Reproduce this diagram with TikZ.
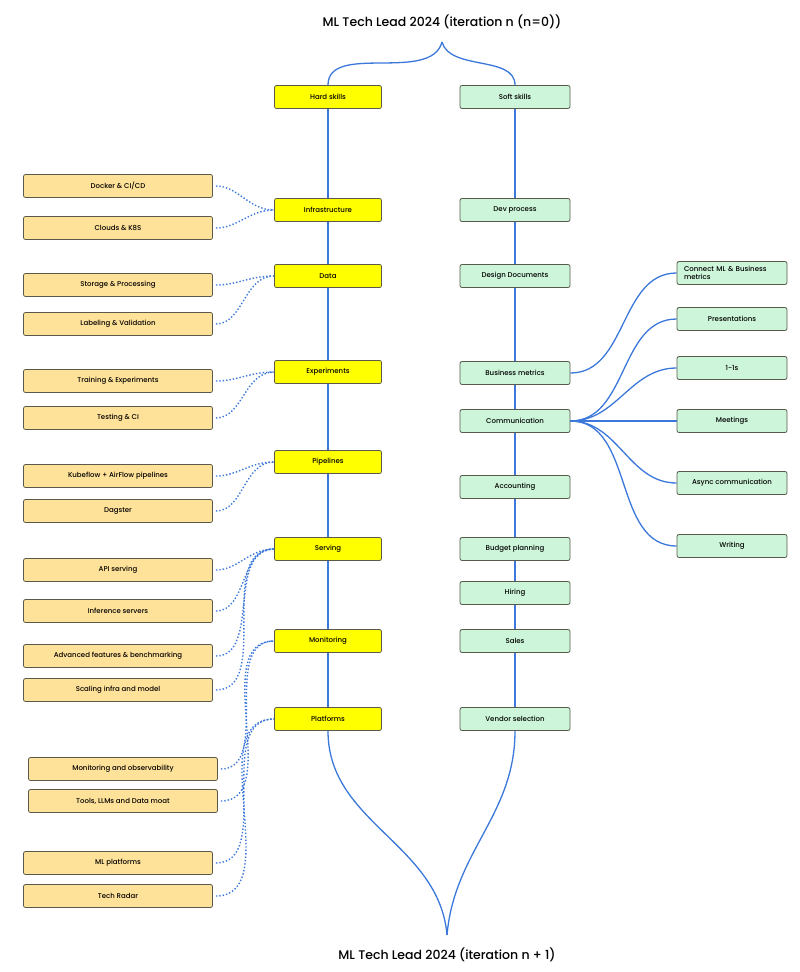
\documentclass[tikz,border=0pt]{standalone}
\usepackage{fontspec}
\setmainfont{Poppins}[UprightFont={* Medium}]
\definecolor{linie}{HTML}{3B78DA}
\definecolor{gelb}{HTML}{FFFF00}
\definecolor{minze}{HTML}{CCF5D9}
\definecolor{sand}{HTML}{FFE29A}
\definecolor{rand}{HTML}{5A5A4A}
\begin{document}
\begin{tikzpicture}[x=1pt,y=-1pt,
    kasten/.style={rectangle,rounded corners=2pt,draw=rand,line width=0.8pt,
        minimum height=23pt,inner sep=1pt,font=\fontsize{7}{8}\selectfont},
    hart/.style={kasten,fill=gelb,minimum width=107pt},
    weich/.style={kasten,fill=minze,minimum width=110pt},
    blatt/.style={kasten,fill=sand,minimum width=189pt},
    ast/.style={draw=linie,line width=1.3pt},
    punkt/.style={draw=linie,line width=1.4pt,dotted,shorten <=3pt}]
    % feste Bildgröße wie im Original (800 x 972):
    \useasboundingbox (0,0) rectangle (800,972);
    % Überschriften oben und unten:
    \node[font=\fontsize{12.5}{14}\selectfont] (titel) at (442,22) {ML Tech Lead 2024 (iteration n (n=0))};
    \node[font=\fontsize{12.5}{14}\selectfont] (fuss) at (447,955) {ML Tech Lead 2024 (iteration n + 1)};
    \coordinate (oben) at (442,42);
    \coordinate (unten) at (447,935);
    % linke Spalte, gelbe Kästen (Hard skills):
    \node[hart] (hard) at (328,97) {Hard skills};
    \node[hart] (infra) at (328,210) {Infrastructure};
    \node[hart] (data) at (328,276) {Data};
    \node[hart] (exper) at (328,372) {Experiments};
    \node[hart] (pipe) at (328,462) {Pipelines};
    \node[hart] (serv) at (328,549) {Serving};
    \node[hart] (moni) at (328,641) {Monitoring};
    \node[hart] (platf) at (328,719) {Platforms};
    % mittlere Spalte, grüne Kästen (Soft skills):
    \node[weich] (soft) at (515,97) {Soft skills};
    \node[weich] (dev) at (515,210) {Dev process};
    \node[weich] (design) at (515,276) {Design Documents};
    \node[weich] (busm) at (515,373) {Business metrics};
    \node[weich] (komm) at (515,421) {Communication};
    \node[weich] (acc) at (515,487) {Accounting};
    \node[weich] (budget) at (515,549) {Budget planning};
    \node[weich] (hiring) at (515,593) {Hiring};
    \node[weich] (sales) at (515,641) {Sales};
    \node[weich] (vendor) at (515,719) {Vendor selection};
    % rechte Spalte, Unterpunkte von Business metrics und Communication:
    \node[weich,align=left,text width=96pt] (connect) at (732,273) {Connect ML \& Business\\metrics};
    \node[weich] (praes) at (732,319) {Presentations};
    \node[weich] (einszueins) at (732,368) {1-1s};
    \node[weich] (meet) at (732,421) {Meetings};
    \node[weich] (async) at (732,483) {Async communication};
    \node[weich] (writ) at (732,546) {Writing};
    % ganz links, orange Kästen:
    \node[blatt] (docker) at (118,186) {Docker \& CI/CD};
    \node[blatt] (clouds) at (118,228) {Clouds \& K8S};
    \node[blatt] (storage) at (118,285) {Storage \& Processing};
    \node[blatt] (label) at (118,324) {Labeling \& Validation};
    \node[blatt] (train) at (118,381) {Training \& Experiments};
    \node[blatt] (test) at (118,418) {Testing \& CI};
    \node[blatt] (kube) at (118,476) {Kubeflow + AirFlow pipelines};
    \node[blatt] (dagster) at (118,511) {Dagster};
    \node[blatt] (api) at (118,570) {API serving};
    \node[blatt] (infer) at (118,611) {Inference servers};
    \node[blatt] (adv) at (118,656) {Advanced features \& benchmarking};
    \node[blatt] (scal) at (118,690) {Scaling infra and model};
    \node[blatt] (monobs) at (123,769) {Monitoring and observability};
    \node[blatt] (tools) at (123,801) {Tools, LLMs and Data moat};
    \node[blatt] (mlplat) at (118,863) {ML platforms};
    \node[blatt] (radar) at (118,896) {Tech Radar};
    % die geschweifte Klammer oben und der Bogen unten:
    \draw[ast] (hard.north) to[out=90,in=-105,looseness=0.9] (oben);
    \draw[ast] (soft.north) to[out=90,in=-75,looseness=0.9] (oben);
    \draw[ast] (platf.south) to[out=-90,in=95] (unten);
    \draw[ast] (vendor.south) to[out=-90,in=85] (unten);
    % die beiden senkrechten Stränge:
    \draw[ast] (hard) -- (infra) -- (data) -- (exper) -- (pipe) -- (serv) -- (moni) -- (platf);
    \draw[ast] (soft) -- (dev) -- (design) -- (busm) -- (komm) -- (acc) -- (budget) -- (hiring) -- (sales) -- (vendor);
    % rechte Verzweigungen:
    \draw[ast] (busm.east) to[out=0,in=180] (connect.west);
    \foreach \z in {praes,einszueins,meet,async,writ}
        \draw[ast] (komm.east) to[out=0,in=180] (\z.west);
    % linke gepunktete Verbindungen:
    \foreach \a/\b in {docker/infra,clouds/infra,storage/data,label/data,train/exper,test/exper,
        kube/pipe,dagster/pipe,api/serv,infer/serv,adv/serv,scal/serv,monobs/moni,tools/moni,
        mlplat/platf,radar/platf}
        \draw[punkt] (\a.east) to[out=0,in=180] (\b.west);
\end{tikzpicture}
\end{document}
